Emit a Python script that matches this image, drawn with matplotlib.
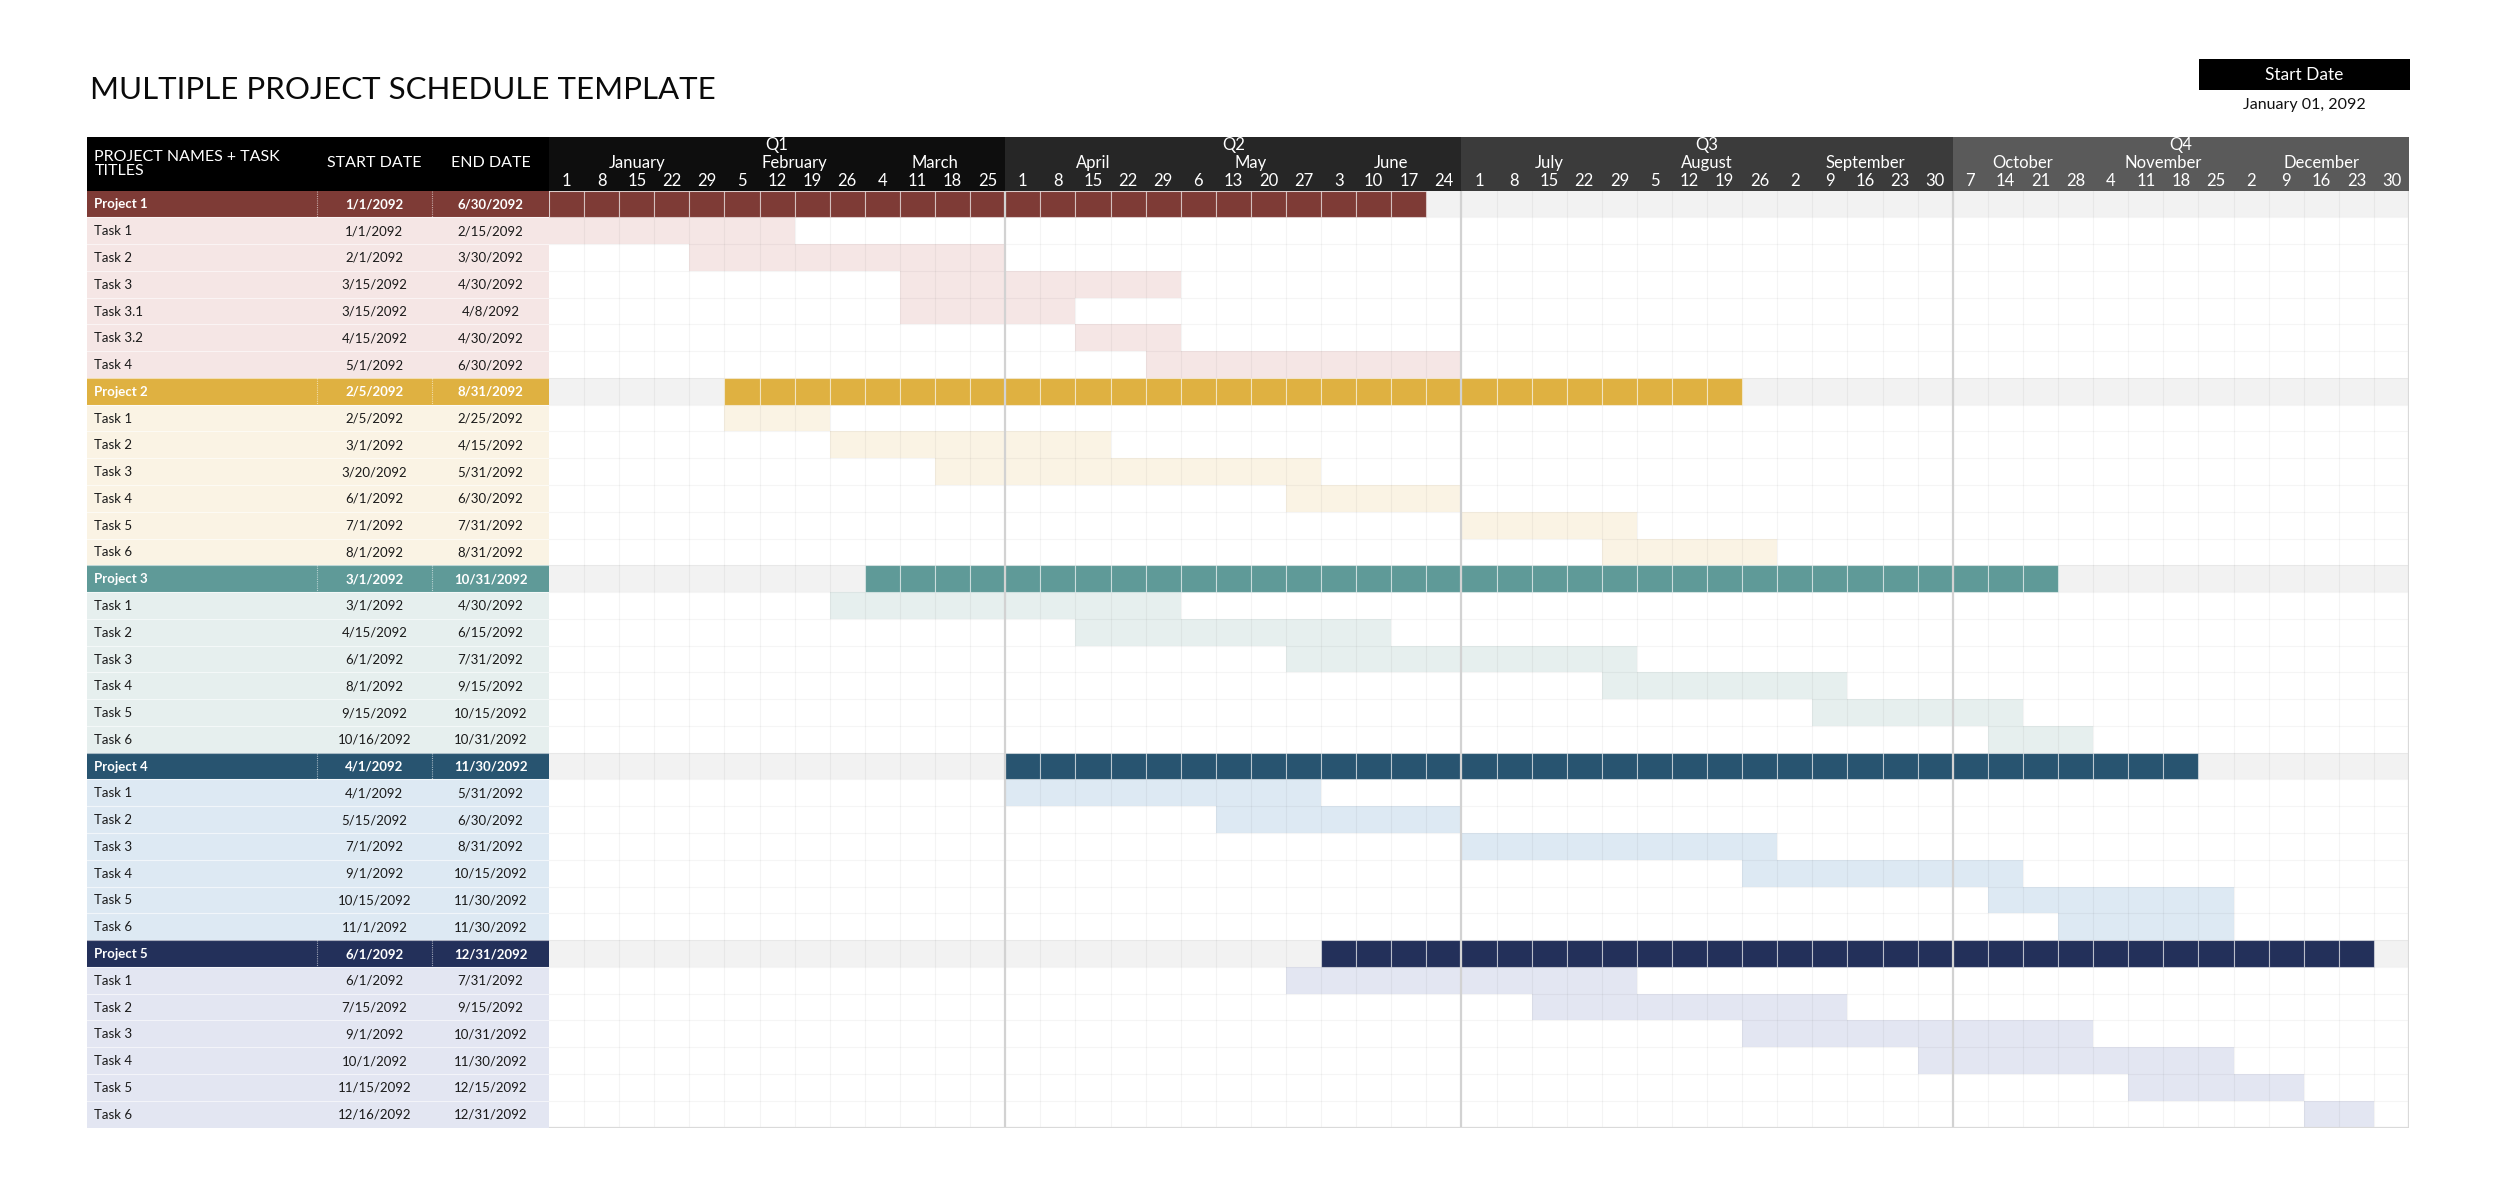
import matplotlib
matplotlib.use("Agg")
import matplotlib.pyplot as plt
from datetime import date, timedelta

# ---------------- data ----------------
title = "MULTIPLE PROJECT SCHEDULE TEMPLATE"
start_box_label = "Start Date"
start_box_value = "January 01, 2092"
col_headers = ["PROJECT NAMES + TASK\nTITLES", "START DATE", "END DATE"]

timeline_start = "1/1/2092"
n_weeks = 53
quarter_names = ["Q1", "Q2", "Q3", "Q4"]
month_names = ["January", "February", "March", "April", "May", "June", "July",
               "August", "September", "October", "November", "December"]

projects = ["Project 1", "Project 2", "Project 3", "Project 4", "Project 5"]
project_starts = ["1/1/2092", "2/5/2092", "3/1/2092", "4/1/2092", "6/1/2092"]
project_ends = ["6/30/2092", "8/31/2092", "10/31/2092", "11/30/2092", "12/31/2092"]

p1_tasks = ["Task 1", "Task 2", "Task 3", "Task 3.1", "Task 3.2", "Task 4"]
p1_starts = ["1/1/2092", "2/1/2092", "3/15/2092", "3/15/2092", "4/15/2092", "5/1/2092"]
p1_ends = ["2/15/2092", "3/30/2092", "4/30/2092", "4/8/2092", "4/30/2092", "6/30/2092"]

p2_tasks = ["Task 1", "Task 2", "Task 3", "Task 4", "Task 5", "Task 6"]
p2_starts = ["2/5/2092", "3/1/2092", "3/20/2092", "6/1/2092", "7/1/2092", "8/1/2092"]
p2_ends = ["2/25/2092", "4/15/2092", "5/31/2092", "6/30/2092", "7/31/2092", "8/31/2092"]

p3_tasks = ["Task 1", "Task 2", "Task 3", "Task 4", "Task 5", "Task 6"]
p3_starts = ["3/1/2092", "4/15/2092", "6/1/2092", "8/1/2092", "9/15/2092", "10/16/2092"]
p3_ends = ["4/30/2092", "6/15/2092", "7/31/2092", "9/15/2092", "10/15/2092", "10/31/2092"]

p4_tasks = ["Task 1", "Task 2", "Task 3", "Task 4", "Task 5", "Task 6"]
p4_starts = ["4/1/2092", "5/15/2092", "7/1/2092", "9/1/2092", "10/15/2092", "11/1/2092"]
p4_ends = ["5/31/2092", "6/30/2092", "8/31/2092", "10/15/2092", "11/30/2092", "11/30/2092"]

p5_tasks = ["Task 1", "Task 2", "Task 3", "Task 4", "Task 5", "Task 6"]
p5_starts = ["6/1/2092", "7/15/2092", "9/1/2092", "10/1/2092", "11/15/2092", "12/16/2092"]
p5_ends = ["7/31/2092", "9/15/2092", "10/31/2092", "11/30/2092", "12/15/2092", "12/31/2092"]

project_colors = ["#7e3b36", "#dfb141", "#5f9a98", "#285470", "#23305a"]
task_colors = ["#f5e6e5", "#faf3e4", "#e6efee", "#dde9f3", "#e3e6f2"]
quarter_header_colors = ["#0e0e0e", "#262626", "#3b3b3b", "#5a5a5a"]

all_tasks = [p1_tasks, p2_tasks, p3_tasks, p4_tasks, p5_tasks]
all_starts = [p1_starts, p2_starts, p3_starts, p4_starts, p5_starts]
all_ends = [p1_ends, p2_ends, p3_ends, p4_ends, p5_ends]

# ---------------- helpers ----------------
def parse(s):
    m, d, y = (int(v) for v in s.split("/"))
    return date(y, m, d)

t0 = parse(timeline_start)
week_starts = [t0 + timedelta(days=7 * i) for i in range(n_weeks)]
year_end = date(t0.year, 12, 31)

def project_weeks(s, e):
    s, e = parse(s), parse(e)
    return [i for i, w in enumerate(week_starts) if w >= s and w + timedelta(days=7) <= e]

def task_weeks(s, e):
    s, e = parse(s), parse(e)
    return [i for i, w in enumerate(week_starts)
            if w <= e and w + timedelta(days=6) >= s and w + timedelta(days=6) <= year_end]

# rows
rows = []
for p in range(len(projects)):
    rows.append(dict(kind="project", p=p, name=projects[p], s=project_starts[p], e=project_ends[p]))
    for t in range(len(all_tasks[p])):
        rows.append(dict(kind="task", p=p, name=all_tasks[p][t], s=all_starts[p][t], e=all_ends[p][t]))
n_rows = len(rows)

# ---------------- layout ----------------
W, H, DPI = 2500, 1193, 100
plt.rcParams['font.family'] = ['Lato', 'DejaVu Sans']
fig = plt.figure(figsize=(W / DPI, H / DPI), dpi=DPI)
fig.patch.set_facecolor("white")

col_bounds = [86.5, 316.7, 432.0, 549.0]
gantt_right = 2409.0
header_top, body_top, body_bottom = 137.3, 190.5, 1127.5

def px_axes(l, t, r, b):
    ax = fig.add_axes([l / W, 1 - b / H, (r - l) / W, (b - t) / H])
    ax.set_axis_off()
    return ax

# title
fig.text(90 / W, 1 - 90 / H, title, fontsize=22.5, va="center", ha="left",
         color="#0a0a0a", fontweight="normal")

# start date box
axb = px_axes(2199, 59, 2410, 90)
axb.set_xlim(0, 1); axb.set_ylim(0, 1)
axb.add_patch(plt.Rectangle((0, 0), 1, 1, color="black", transform=axb.transAxes))
axb.text(0.5, 0.5, start_box_label, color="white", fontsize=12.5, ha="center", va="center")
fig.text(2304 / W, 1 - 105 / H, start_box_value, fontsize=11.5, ha="center", va="center", color="#111111")

# ---- table header ----
hdr_fs = 12
axth = px_axes(col_bounds[0], header_top, col_bounds[-1], body_top)
axth.set_xlim(col_bounds[0], col_bounds[-1]); axth.set_ylim(0, 1)
axth.add_patch(plt.Rectangle((col_bounds[0], 0), col_bounds[-1] - col_bounds[0], 1, color="black"))
axth.text(col_bounds[0] + 8, 0.5, col_headers[0], color="white", fontsize=11.5, ha="left",
          va="center", linespacing=1.0)
for c in (1, 2):
    axth.text((col_bounds[c] + col_bounds[c + 1]) / 2, 0.52, col_headers[c], color="white",
              fontsize=11.5, ha="center", va="center")

# ---- gantt header ----
axgh = px_axes(col_bounds[-1], header_top, gantt_right, body_top)
axgh.set_xlim(0, n_weeks); axgh.set_ylim(0, 1)
q_of_week = [(w.month - 1) // 3 for w in week_starts]
for q in range(4):
    idx = [i for i in range(n_weeks) if q_of_week[i] == q]
    axgh.barh(0.5, len(idx), left=idx[0], height=1, color=quarter_header_colors[q], linewidth=0)
    axgh.text(idx[0] + len(idx) / 2, 0.85, quarter_names[q], color="white", fontsize=hdr_fs,
              ha="center", va="center")
for m in range(12):
    idx = [i for i in range(n_weeks) if week_starts[i].month == m + 1 and week_starts[i].year == t0.year]
    axgh.text(idx[0] + len(idx) / 2, 0.51, month_names[m], color="white", fontsize=hdr_fs,
              ha="center", va="center")
for i, w in enumerate(week_starts):
    axgh.text(i + 0.5, 0.17, str(w.day), color="white", fontsize=hdr_fs, ha="center", va="center")

# ---- left table body ----
axt = px_axes(col_bounds[0], body_top, col_bounds[-1], body_bottom)
axt.set_xlim(col_bounds[0], col_bounds[-1]); axt.set_ylim(n_rows, 0)
for r, row in enumerate(rows):
    proj = row["kind"] == "project"
    fc = project_colors[row["p"]] if proj else task_colors[row["p"]]
    axt.barh(r + 0.5, col_bounds[-1] - col_bounds[0], left=col_bounds[0], height=1,
             color=fc, linewidth=0)
    tc = "white" if proj else "#1a1a1a"
    fw = "bold" if proj else "normal"
    axt.text(col_bounds[0] + 8, r + 0.52, row["name"], color=tc, fontweight=fw, fontsize=9.5,
             ha="left", va="center")
    axt.text((col_bounds[1] + col_bounds[2]) / 2, r + 0.52, row["s"], color=tc, fontweight=fw,
             fontsize=9.5, ha="center", va="center")
    axt.text((col_bounds[2] + col_bounds[3]) / 2, r + 0.52, row["e"], color=tc, fontweight=fw,
             fontsize=9.5, ha="center", va="center")
    if proj:
        for c in (1, 2):
            axt.plot([col_bounds[c]] * 2, [r, r + 1], color=(1, 1, 1, 0.55), lw=0.8, ls=(0, (1, 1)))
for r in range(1, n_rows):
    axt.axhline(r, color=(1, 1, 1, 0.6), lw=0.8)

# ---- gantt body ----
axg = px_axes(col_bounds[-1], body_top, gantt_right, body_bottom)
axg.set_xlim(0, n_weeks); axg.set_ylim(n_rows, 0)
for r, row in enumerate(rows):
    p = row["p"]
    if row["kind"] == "project":
        axg.barh(r + 0.5, n_weeks, left=0, height=1, color="#f2f2f2", linewidth=0, zorder=1)
        wk = project_weeks(row["s"], row["e"])
        axg.barh([r + 0.5] * len(wk), [1] * len(wk), left=wk, height=1,
                 color=project_colors[p], edgecolor=(1, 1, 1, 0.5), linewidth=0.8, zorder=3)
    else:
        wk = task_weeks(row["s"], row["e"])
        axg.barh([r + 0.5] * len(wk), [1] * len(wk), left=wk, height=1,
                 color=task_colors[p], linewidth=0, zorder=1)
# faint grid
for i in range(1, n_weeks):
    axg.axvline(i, color=(0, 0, 0, 0.045), lw=0.8, zorder=2)
for r in range(1, n_rows):
    axg.axhline(r, color=(0, 0, 0, 0.04), lw=0.8, zorder=2)
# quarter dividers
qb = [i for i in range(1, n_weeks) if q_of_week[i] != q_of_week[i - 1]]
for x in qb:
    axg.axvline(x, color="#d2d2d2", lw=1.6, zorder=5)
axg.axvline(n_weeks, color="#dadada", lw=1.6, zorder=5)
axg.axhline(n_rows, color="#dadada", lw=1.6, zorder=5)

fig.savefig("out.png", dpi=DPI, facecolor="white")
